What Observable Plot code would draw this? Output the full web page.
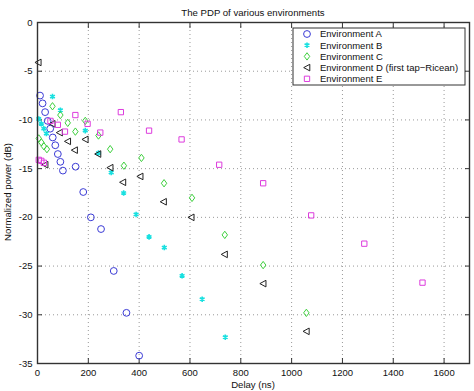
<!DOCTYPE html>
<html><head><meta charset="utf-8">
<script src="https://cdn.jsdelivr.net/npm/d3@7"></script>
<script src="https://cdn.jsdelivr.net/npm/@observablehq/plot@0.6"></script>
<style>
body{margin:0;background:#fff;}
#wrap{position:relative;width:474px;height:391px;font-family:"Liberation Sans",Arial,sans-serif;}
#wrap svg{position:absolute;left:0;top:0;}
</style></head><body><div id="wrap"></div>
<script>
const titleText = "The PDP of various environments";
const xLabel = "Delay (ns)";
const yLabel = "Normalized power (dB)";
const seriesNames = ["Environment A", "Environment B", "Environment C", "Environment D (first tap\u2212Ricean)", "Environment E"];
const xTicks = [0, 200, 400, 600, 800, 1000, 1200, 1400, 1600];
const yTicks = [0, -5, -10, -15, -20, -25, -30, -35];

const delayA = [10, 20, 30, 40, 50, 60, 70, 80, 90, 100, 150, 180, 210, 250, 300, 350, 400];
const powerA = [-7.5, -8.3, -9.2, -10.1, -10.9, -11.8, -12.6, -13.5, -14.3, -15.2, -14.8, -17.4, -20.0, -21.2, -25.5, -29.8, -34.2];

const delayB = [5, 15, 25, 35, 59, 90, 188, 240, 290, 339, 388, 439, 499, 569, 648, 739];
const powerB = [-9.9, -10.4, -10.9, -11.4, -7.6, -9.0, -11.1, -13.4, -15.4, -17.5, -19.7, -22.0, -23.1, -26.0, -28.4, -32.3];

const delayC = [5, 15, 25, 37, 59, 90, 119, 149, 188, 240, 286, 340, 409, 498, 608, 737, 888, 1058];
const powerC = [-11.9, -12.3, -12.7, -13.0, -8.6, -9.5, -10.3, -11.2, -10.1, -11.6, -13.0, -14.7, -13.9, -16.5, -18.0, -21.8, -24.9, -29.8];

const delayD = [3, 30, 58, 87, 119, 146, 188, 238, 286, 336, 404, 496, 605, 736, 888, 1058];
const powerD = [-4.1, -14.6, -10.4, -11.3, -12.2, -13.1, -12.0, -13.5, -14.9, -16.4, -15.8, -18.4, -20.0, -23.8, -26.8, -31.7];

const delayE = [5, 15, 25, 51, 80, 108, 149, 197, 247, 328, 439, 567, 715, 888, 1077, 1286, 1515];
const powerE = [-14.1, -14.2, -14.4, -10.1, -10.5, -11.2, -9.5, -10.4, -11.3, -9.2, -11.1, -12.0, -14.6, -16.5, -19.8, -22.7, -26.7];

const colors = ["#3b3bd6", "#18e0e0", "#3dd03d", "#222222", "#dd3cdd"];

const leftTriangle = {draw(ctx, size) {
  const r = Math.sqrt(size / Math.PI);
  ctx.moveTo(-r, 0); ctx.lineTo(r * 0.85, -r); ctx.lineTo(r * 0.85, r); ctx.closePath();
}};
const diamondM = {draw(ctx, size) {
  const r = Math.sqrt(size / Math.PI);
  ctx.moveTo(0, -r * 1.15); ctx.lineTo(r * 0.85, 0); ctx.lineTo(0, r * 1.15); ctx.lineTo(-r * 0.85, 0); ctx.closePath();
}};
const symbols = ["circle", "asterisk", diamondM, leftTriangle, "square"];
const radii = [3.4, 2.6, 3.2, 3.3, 3.0];
const fills = ["none", "none", "none", "none", "none"];
const widths = [1, 1.6, 1, 1, 1];

const delays = [delayA, delayB, delayC, delayD, delayE];
const powers = [powerA, powerB, powerC, powerD, powerE];
const rows = delays.map((ds, i) => ds.map((d, j) => ({series: i, delay: d, power: powers[i][j]})));

const font = "Liberation Sans, Arial, sans-serif";
const plot = Plot.plot({
  width: 474, height: 391,
  marginLeft: 37, marginRight: 5, marginTop: 22, marginBottom: 28,
  style: {fontFamily: font, fontSize: "9.5px", color: "#111", background: "white"},
  x: {domain: [0, 1700]},
  y: {domain: [-35, 0]},
  marks: [
    Plot.gridX(xTicks, {stroke: "#999", strokeOpacity: 1, strokeDasharray: "1,3"}),
    Plot.gridY(yTicks, {stroke: "#999", strokeOpacity: 1, strokeDasharray: "1,3"}),
    Plot.axisX(xTicks, {anchor: "bottom", tickSize: -5, tickPadding: 11, tickFormat: d => String(d), label: null, stroke: "#333"}),
    Plot.axisX(xTicks, {anchor: "top", tickSize: -5, tickFormat: () => "", label: null, stroke: "#333"}),
    Plot.axisY(yTicks, {anchor: "left", tickSize: -5, tickPadding: 10, tickFormat: d => String(d), label: null, stroke: "#333"}),
    Plot.axisY(yTicks, {anchor: "right", tickSize: -5, tickFormat: () => "", label: null, stroke: "#333"}),
    ...rows.map((data, i) => Plot.dot(data, {x: "delay", y: "power", symbol: () => symbols[i], r: radii[i], stroke: colors[i], fill: fills[i], strokeWidth: widths[i]})),
    Plot.frame({stroke: "#333", strokeWidth: 1.4})
  ]
});
const wrap = document.getElementById("wrap");
wrap.appendChild(plot);

// overlay texts and legend
const svg = d3.select(wrap).append("svg").attr("width", 474).attr("height", 391)
  .style("font-family", font).style("pointer-events", "none");
svg.append("text").attr("x", 253).attr("y", 16).attr("text-anchor", "middle").attr("font-size", "9.6px").attr("fill", "#111").text(titleText);
svg.append("text").attr("x", 253).attr("y", 388).attr("text-anchor", "middle").attr("font-size", "9.6px").attr("fill", "#111").text(xLabel);
svg.append("text").attr("transform", "translate(11,192) rotate(-90)").attr("text-anchor", "middle").attr("font-size", "9.6px").attr("fill", "#111").text(yLabel);

const lg = svg.append("g");
lg.append("rect").attr("x", 293).attr("y", 28).attr("width", 172).attr("height", 57).attr("fill", "white").attr("stroke", "#333").attr("stroke-width", 1);
const legendY = [34, 45.2, 56.4, 67.6, 78.8];
seriesNames.forEach((name, i) => {
  const sym = typeof symbols[i] === "string" ? {circle: d3.symbolCircle, asterisk: d3.symbolAsterisk, square: d3.symbolSquare}[symbols[i]] : symbols[i];
  lg.append("path").attr("transform", `translate(307,${legendY[i]})`)
    .attr("d", d3.symbol(sym, radii[i] * radii[i] * Math.PI)())
    .attr("fill", "none").attr("stroke", colors[i]).attr("stroke-width", widths[i]);
  lg.append("text").attr("x", 320).attr("y", legendY[i] + 3.4).attr("font-size", "9.5px").attr("fill", "#111").text(name);
});
</script>
</body></html>
